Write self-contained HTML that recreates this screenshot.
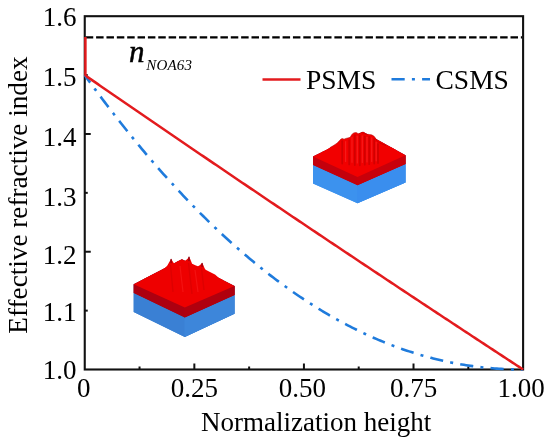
<!DOCTYPE html>
<html><head><meta charset="utf-8"><style>
html,body{margin:0;padding:0;background:#fff;width:550px;height:446px;overflow:hidden}
svg{display:block}
text{font-family:'Liberation Serif', 'Times New Roman', serif;fill:#000}
</style></head><body>
<svg width="550" height="446" viewBox="0 0 550 446">
<rect width="550" height="446" fill="#fff"/>
<!-- insets -->
<g>
<polygon points="313.00,156.60 363.00,131.80 405.50,155.30 405.50,163.90 405.50,182.50 357.50,203.20 313.00,183.50 313.00,164.90" fill="#3c92ee"/>
<polygon points="313.00,156.60 363.00,131.80 405.50,155.30 405.50,163.90 357.50,185.20 313.00,164.90" fill="#c4000c"/>
<polygon points="313.00,164.90 357.50,185.20 405.50,163.90 405.50,182.50 357.50,203.20 313.00,183.50" fill="#3c92ee"/>
<polygon points="357.20,185.20 405.50,163.90 405.50,182.50 357.20,203.20" fill="#3a8eee"/>
<polygon points="313.00,156.60 357.50,177.00 405.50,155.30 405.50,163.90 357.50,185.20 313.00,164.90" fill="#c4000c"/>
<polygon points="357.20,177.00 405.50,155.30 405.50,163.90 357.20,185.20" fill="#c8000a"/>
<polygon points="313.00,156.60 357.50,177.00 405.50,155.30 363.00,131.80" fill="#f20000"/>
<polygon points="322.00,152.10 326.00,150.20 330.00,147.60 334.00,145.20 337.00,143.20 339.80,140.30 341.00,139.00 342.50,138.60 344.00,139.20 346.00,138.40 348.50,137.80 350.20,137.30 351.50,135.00 352.90,133.40 354.50,132.70 356.20,132.60 357.80,133.40 358.90,133.80 360.20,133.00 361.60,132.60 363.50,133.40 366.00,134.30 368.50,134.40 371.40,134.80 373.50,135.80 374.70,137.00 376.00,139.00 376.90,140.80 379.00,142.50 382.10,144.00 386.00,145.60 392.00,147.80 396.00,150.00 380.00,166.00 340.00,166.00" fill="#f20000"/>
<polyline points="330.00,147.60 334.00,145.20 337.00,143.20 339.80,140.30 341.00,139.00 342.50,138.60 344.00,139.20 346.00,138.40 348.50,137.80 350.20,137.30 351.50,135.00 352.90,133.40 354.50,132.70 356.20,132.60 357.80,133.40 358.90,133.80 360.20,133.00 361.60,132.60 363.50,133.40 366.00,134.30 368.50,134.40 371.40,134.80 373.50,135.80 374.70,137.00 376.00,139.00 376.90,140.80 379.00,142.50 382.10,144.00 386.00,145.60" fill="none" stroke="#b00000" stroke-width="0.9" stroke-opacity="0.6" stroke-linejoin="round"/>
<line x1="342.2" y1="141.2" x2="342.2" y2="163.6" stroke="#b80000" stroke-width="1.8" stroke-opacity="0.55" stroke-linecap="round"/>
<line x1="349.2" y1="140.1" x2="349.2" y2="164.4" stroke="#b80000" stroke-width="1.8" stroke-opacity="0.55" stroke-linecap="round"/>
<line x1="354.8" y1="135.2" x2="354.8" y2="165.1" stroke="#b80000" stroke-width="1.8" stroke-opacity="0.55" stroke-linecap="round"/>
<line x1="359.8" y1="135.7" x2="359.8" y2="165.3" stroke="#b80000" stroke-width="1.8" stroke-opacity="0.55" stroke-linecap="round"/>
<line x1="364.8" y1="136.4" x2="364.8" y2="164.7" stroke="#b80000" stroke-width="1.8" stroke-opacity="0.55" stroke-linecap="round"/>
<line x1="369.2" y1="137.0" x2="369.2" y2="164.2" stroke="#b80000" stroke-width="1.8" stroke-opacity="0.55" stroke-linecap="round"/>
<line x1="374.2" y1="139.0" x2="374.2" y2="163.6" stroke="#b80000" stroke-width="1.8" stroke-opacity="0.55" stroke-linecap="round"/>
<line x1="378.0" y1="144.2" x2="378.0" y2="163.1" stroke="#b80000" stroke-width="1.8" stroke-opacity="0.55" stroke-linecap="round"/>
<line x1="345.6" y1="141.6" x2="345.6" y2="161.5" stroke="#ff3838" stroke-width="1.2" stroke-opacity="0.45" stroke-linecap="round"/>
<line x1="352.0" y1="137.4" x2="352.0" y2="162.3" stroke="#ff3838" stroke-width="1.2" stroke-opacity="0.45" stroke-linecap="round"/>
<line x1="357.3" y1="136.2" x2="357.3" y2="162.9" stroke="#ff3838" stroke-width="1.2" stroke-opacity="0.45" stroke-linecap="round"/>
<line x1="362.3" y1="135.9" x2="362.3" y2="162.5" stroke="#ff3838" stroke-width="1.2" stroke-opacity="0.45" stroke-linecap="round"/>
<line x1="367.0" y1="137.3" x2="367.0" y2="161.9" stroke="#ff3838" stroke-width="1.2" stroke-opacity="0.45" stroke-linecap="round"/>
<line x1="371.7" y1="137.9" x2="371.7" y2="161.4" stroke="#ff3838" stroke-width="1.2" stroke-opacity="0.45" stroke-linecap="round"/>
<line x1="376.2" y1="142.4" x2="376.2" y2="160.8" stroke="#ff3838" stroke-width="1.2" stroke-opacity="0.45" stroke-linecap="round"/>
</g>
<g>
<polygon points="133.70,284.30 181.90,259.20 234.50,286.00 234.50,295.10 234.50,313.70 184.80,337.10 133.70,312.10 133.70,293.10" fill="#3a80d4"/>
<polygon points="133.70,284.30 181.90,259.20 234.50,286.00 234.50,295.10 184.80,317.50 133.70,293.10" fill="#ac0010"/>
<polygon points="133.70,293.10 184.80,317.50 234.50,295.10 234.50,313.70 184.80,337.10 133.70,312.10" fill="#3a80d4"/>
<polygon points="184.50,317.50 234.50,295.10 234.50,313.70 184.50,337.10" fill="#3d86da"/>
<polygon points="133.70,284.30 184.80,307.50 234.50,286.00 234.50,295.10 184.80,317.50 133.70,293.10" fill="#ac0010"/>
<polygon points="184.50,307.50 234.50,286.00 234.50,295.10 184.50,317.50" fill="#b0000e"/>
<polygon points="133.70,284.30 184.80,307.50 234.50,286.00 181.90,259.20" fill="#ee0000"/>
<polygon points="144.00,279.00 148.00,276.90 155.00,273.40 161.50,270.20 165.50,267.50 167.50,265.30 169.00,262.60 171.10,259.10 172.60,261.30 174.00,263.40 175.20,263.20 176.80,261.80 179.00,260.80 181.20,260.40 183.00,260.50 184.40,260.90 186.20,260.00 187.80,258.40 189.00,257.00 190.20,259.00 191.20,261.60 192.10,263.80 195.30,265.30 198.00,266.20 199.40,265.60 200.60,264.40 202.10,263.10 203.40,265.30 204.60,268.20 205.60,269.80 209.50,271.80 215.00,274.60 219.00,278.10 223.00,280.10 205.00,295.00 165.00,295.00" fill="#ee0000"/>
<line x1="170.5" y1="265" x2="173" y2="292" stroke="#c00000" stroke-width="1.4" stroke-opacity="0.35"/>
<line x1="188.5" y1="263" x2="192" y2="294" stroke="#c00000" stroke-width="1.4" stroke-opacity="0.35"/>
<line x1="201.5" y1="268" x2="204" y2="290" stroke="#c00000" stroke-width="1.4" stroke-opacity="0.35"/>
<line x1="180" y1="266" x2="183" y2="292" stroke="#ff3030" stroke-width="1.2" stroke-opacity="0.35"/>
<line x1="195" y1="270" x2="198" y2="292" stroke="#ff3030" stroke-width="1.2" stroke-opacity="0.35"/>
<line x1="171.1" y1="259.4" x2="171.1" y2="262.6" stroke="#8a0010" stroke-width="1.5" stroke-opacity="0.85" stroke-linecap="round"/>
<line x1="189.0" y1="257.3" x2="189.0" y2="260.5" stroke="#8a0010" stroke-width="1.5" stroke-opacity="0.85" stroke-linecap="round"/>
<line x1="202.1" y1="263.4" x2="202.1" y2="266.6" stroke="#8a0010" stroke-width="1.5" stroke-opacity="0.85" stroke-linecap="round"/>
</g>
<!-- frame -->
<rect x="84.75" y="16.2" width="438.35" height="353.30" fill="none" stroke="#111" stroke-width="2.1"/>
<g stroke="#111" stroke-width="2">
<line x1="194.34" y1="369.50" x2="194.34" y2="363.50"/>
<line x1="303.93" y1="369.50" x2="303.93" y2="363.50"/>
<line x1="413.51" y1="369.50" x2="413.51" y2="363.50"/>
<line x1="139.54" y1="369.50" x2="139.54" y2="366.50"/>
<line x1="249.13" y1="369.50" x2="249.13" y2="366.50"/>
<line x1="358.72" y1="369.50" x2="358.72" y2="366.50"/>
<line x1="468.31" y1="369.50" x2="468.31" y2="366.50"/>
<line x1="84.75" y1="310.62" x2="87.75" y2="310.62"/>
<line x1="84.75" y1="251.73" x2="90.75" y2="251.73"/>
<line x1="84.75" y1="192.85" x2="87.75" y2="192.85"/>
<line x1="84.75" y1="133.97" x2="90.75" y2="133.97"/>
<line x1="84.75" y1="75.08" x2="87.75" y2="75.08"/>
</g>
<!-- dashed NOA63 -->
<line x1="85.74" y1="37.45" x2="522" y2="37.45" stroke="#000" stroke-width="2.2" stroke-dasharray="7.5 2.86"/>
<!-- curves -->
<polyline points="84.75,75.08 86.94,78.12 89.13,81.15 91.33,84.15 93.52,87.14 95.71,90.12 97.90,93.07 100.09,96.01 102.28,98.94 104.48,101.85 106.67,104.74 108.86,107.62 111.05,110.48 113.24,113.32 115.43,116.15 117.63,118.96 119.82,121.76 122.01,124.53 124.20,127.30 126.39,130.04 128.59,132.77 130.78,135.49 132.97,138.19 135.16,140.87 137.35,143.53 139.54,146.18 141.74,148.82 143.93,151.44 146.12,154.04 148.31,156.62 150.50,159.19 152.69,161.74 154.89,164.28 157.08,166.80 159.27,169.30 161.46,171.79 163.65,174.27 165.84,176.72 168.04,179.16 170.23,181.59 172.42,183.99 174.61,186.39 176.80,188.76 179.00,191.12 181.19,193.47 183.38,195.79 185.57,198.10 187.76,200.40 189.95,202.68 192.15,204.94 194.34,207.19 196.53,209.42 198.72,211.64 200.91,213.84 203.10,216.02 205.30,218.19 207.49,220.34 209.68,222.48 211.87,224.60 214.06,226.70 216.25,228.79 218.45,230.87 220.64,232.92 222.83,234.96 225.02,236.99 227.21,239.00 229.41,240.99 231.60,242.97 233.79,244.93 235.98,246.87 238.17,248.80 240.36,250.72 242.56,252.62 244.75,254.50 246.94,256.36 249.13,258.22 251.32,260.05 253.51,261.87 255.71,263.67 257.90,265.46 260.09,267.23 262.28,268.99 264.47,270.73 266.67,272.45 268.86,274.16 271.05,275.86 273.24,277.53 275.43,279.20 277.62,280.84 279.82,282.47 282.01,284.09 284.20,285.69 286.39,287.27 288.58,288.84 290.77,290.39 292.97,291.93 295.16,293.45 297.35,294.96 299.54,296.45 301.73,297.92 303.93,299.38 306.12,300.83 308.31,302.25 310.50,303.67 312.69,305.06 314.88,306.45 317.08,307.81 319.27,309.16 321.46,310.50 323.65,311.82 325.84,313.12 328.03,314.41 330.23,315.68 332.42,316.94 334.61,318.19 336.80,319.41 338.99,320.62 341.18,321.82 343.38,323.00 345.57,324.17 347.76,325.32 349.95,326.46 352.14,327.58 354.34,328.68 356.53,329.77 358.72,330.84 360.91,331.90 363.10,332.95 365.29,333.98 367.49,334.99 369.68,335.99 371.87,336.97 374.06,337.94 376.25,338.89 378.44,339.83 380.64,340.76 382.83,341.66 385.02,342.56 387.21,343.43 389.40,344.30 391.59,345.14 393.79,345.98 395.98,346.79 398.17,347.60 400.36,348.39 402.55,349.16 404.75,349.92 406.94,350.66 409.13,351.39 411.32,352.10 413.51,352.80 415.70,353.48 417.90,354.15 420.09,354.81 422.28,355.45 424.47,356.07 426.66,356.68 428.85,357.28 431.05,357.86 433.24,358.43 435.43,358.98 437.62,359.52 439.81,360.04 442.01,360.55 444.20,361.04 446.39,361.52 448.58,361.98 450.77,362.43 452.96,362.87 455.16,363.29 457.35,363.70 459.54,364.09 461.73,364.47 463.92,364.84 466.11,365.19 468.31,365.52 470.50,365.85 472.69,366.15 474.88,366.45 477.07,366.73 479.27,366.99 481.46,367.25 483.65,367.49 485.84,367.71 488.03,367.92 490.22,368.12 492.42,368.30 494.61,368.47 496.80,368.63 498.99,368.77 501.18,368.90 503.37,369.02 505.57,369.12 507.76,369.21 509.95,369.29 512.14,369.36 514.33,369.41 516.52,369.45 518.72,369.48 520.91,369.49 523.10,369.50" fill="none" stroke="#1f7bdc" stroke-width="2.6" stroke-dasharray="13.2 7.2 3 7.2" stroke-dashoffset="3.9"/>
<polyline points="85.40,37.00 85.40,75.08 86.94,76.60 89.13,78.11 91.33,79.62 93.52,81.13 95.71,82.64 97.90,84.15 100.09,85.66 102.28,87.17 104.48,88.68 106.67,90.18 108.86,91.69 111.05,93.20 113.24,94.71 115.43,96.21 117.63,97.72 119.82,99.23 122.01,100.73 124.20,102.24 126.39,103.74 128.59,105.25 130.78,106.75 132.97,108.25 135.16,109.76 137.35,111.26 139.54,112.76 141.74,114.26 143.93,115.76 146.12,117.27 148.31,118.77 150.50,120.27 152.69,121.77 154.89,123.27 157.08,124.77 159.27,126.26 161.46,127.76 163.65,129.26 165.84,130.76 168.04,132.25 170.23,133.75 172.42,135.25 174.61,136.74 176.80,138.24 179.00,139.73 181.19,141.23 183.38,142.72 185.57,144.22 187.76,145.71 189.95,147.20 192.15,148.70 194.34,150.19 196.53,151.68 198.72,153.17 200.91,154.66 203.10,156.15 205.30,157.64 207.49,159.13 209.68,160.62 211.87,162.11 214.06,163.60 216.25,165.09 218.45,166.58 220.64,168.07 222.83,169.55 225.02,171.04 227.21,172.53 229.41,174.01 231.60,175.50 233.79,176.98 235.98,178.47 238.17,179.95 240.36,181.43 242.56,182.92 244.75,184.40 246.94,185.88 249.13,187.37 251.32,188.85 253.51,190.33 255.71,191.81 257.90,193.29 260.09,194.77 262.28,196.25 264.47,197.73 266.67,199.21 268.86,200.69 271.05,202.17 273.24,203.65 275.43,205.12 277.62,206.60 279.82,208.08 282.01,209.55 284.20,211.03 286.39,212.50 288.58,213.98 290.77,215.45 292.97,216.93 295.16,218.40 297.35,219.88 299.54,221.35 301.73,222.82 303.93,224.29 306.12,225.77 308.31,227.24 310.50,228.71 312.69,230.18 314.88,231.65 317.08,233.12 319.27,234.59 321.46,236.06 323.65,237.53 325.84,238.99 328.03,240.46 330.23,241.93 332.42,243.40 334.61,244.86 336.80,246.33 338.99,247.80 341.18,249.26 343.38,250.73 345.57,252.19 347.76,253.66 349.95,255.12 352.14,256.58 354.34,258.05 356.53,259.51 358.72,260.97 360.91,262.43 363.10,263.89 365.29,265.36 367.49,266.82 369.68,268.28 371.87,269.74 374.06,271.20 376.25,272.65 378.44,274.11 380.64,275.57 382.83,277.03 385.02,278.49 387.21,279.94 389.40,281.40 391.59,282.86 393.79,284.31 395.98,285.77 398.17,287.22 400.36,288.68 402.55,290.13 404.75,291.59 406.94,293.04 409.13,294.49 411.32,295.95 413.51,297.40 415.70,298.85 417.90,300.30 420.09,301.75 422.28,303.20 424.47,304.65 426.66,306.10 428.85,307.55 431.05,309.00 433.24,310.45 435.43,311.90 437.62,313.35 439.81,314.79 442.01,316.24 444.20,317.69 446.39,319.13 448.58,320.58 450.77,322.02 452.96,323.47 455.16,324.91 457.35,326.36 459.54,327.80 461.73,329.25 463.92,330.69 466.11,332.13 468.31,333.57 470.50,335.02 472.69,336.46 474.88,337.90 477.07,339.34 479.27,340.78 481.46,342.22 483.65,343.66 485.84,345.10 488.03,346.54 490.22,347.97 492.42,349.41 494.61,350.85 496.80,352.29 498.99,353.72 501.18,355.16 503.37,356.60 505.57,358.03 507.76,359.47 509.95,360.90 512.14,362.33 514.33,363.77 516.52,365.20 518.72,366.64 520.91,368.07 523.10,369.50" fill="none" stroke="#e31b1e" stroke-width="2.5" stroke-linejoin="round"/>
<!-- legend -->
<line x1="262.5" y1="79.5" x2="300.5" y2="79.5" stroke="#e31b1e" stroke-width="2.5"/>
<line x1="391.5" y1="79.2" x2="430" y2="79.2" stroke="#1f7bdc" stroke-width="2.6" stroke-dasharray="13.2 7.2 3 7.2"/>
<g font-size="27">
<text x="306" y="88.8" font-size="27.5">PSMS</text>
<text x="435.5" y="88.8" font-size="27.5">CSMS</text>
<text x="76.5" y="379.20" text-anchor="end">1.0</text>
<text x="76.5" y="321.12" text-anchor="end">1.1</text>
<text x="76.5" y="263.83" text-anchor="end">1.2</text>
<text x="76.5" y="205.95" text-anchor="end">1.3</text>
<text x="76.5" y="146.17" text-anchor="end">1.4</text>
<text x="76.5" y="86.08" text-anchor="end">1.5</text>
<text x="76.5" y="25.50" text-anchor="end">1.6</text>
<text x="83.75" y="396.9" text-anchor="middle">0</text>
<text x="194.34" y="396.9" text-anchor="middle">0.25</text>
<text x="302.43" y="396.9" text-anchor="middle">0.50</text>
<text x="413.51" y="396.9" text-anchor="middle">0.75</text>
<text x="521.10" y="396.9" text-anchor="middle">1.00</text>
<text x="201" y="431.4">Normalization height</text>
<text transform="translate(26.8,195) rotate(-90)" text-anchor="middle" font-size="27.2">Effective refractive index</text>
</g>
<text x="129" y="61.8" font-size="31" font-style="italic" stroke="#000" stroke-width="0.5">n</text>
<text x="146.2" y="69.8" font-size="15" letter-spacing="0.2" font-style="italic" fill="#222">NOA63</text>
</svg>
</body></html>
